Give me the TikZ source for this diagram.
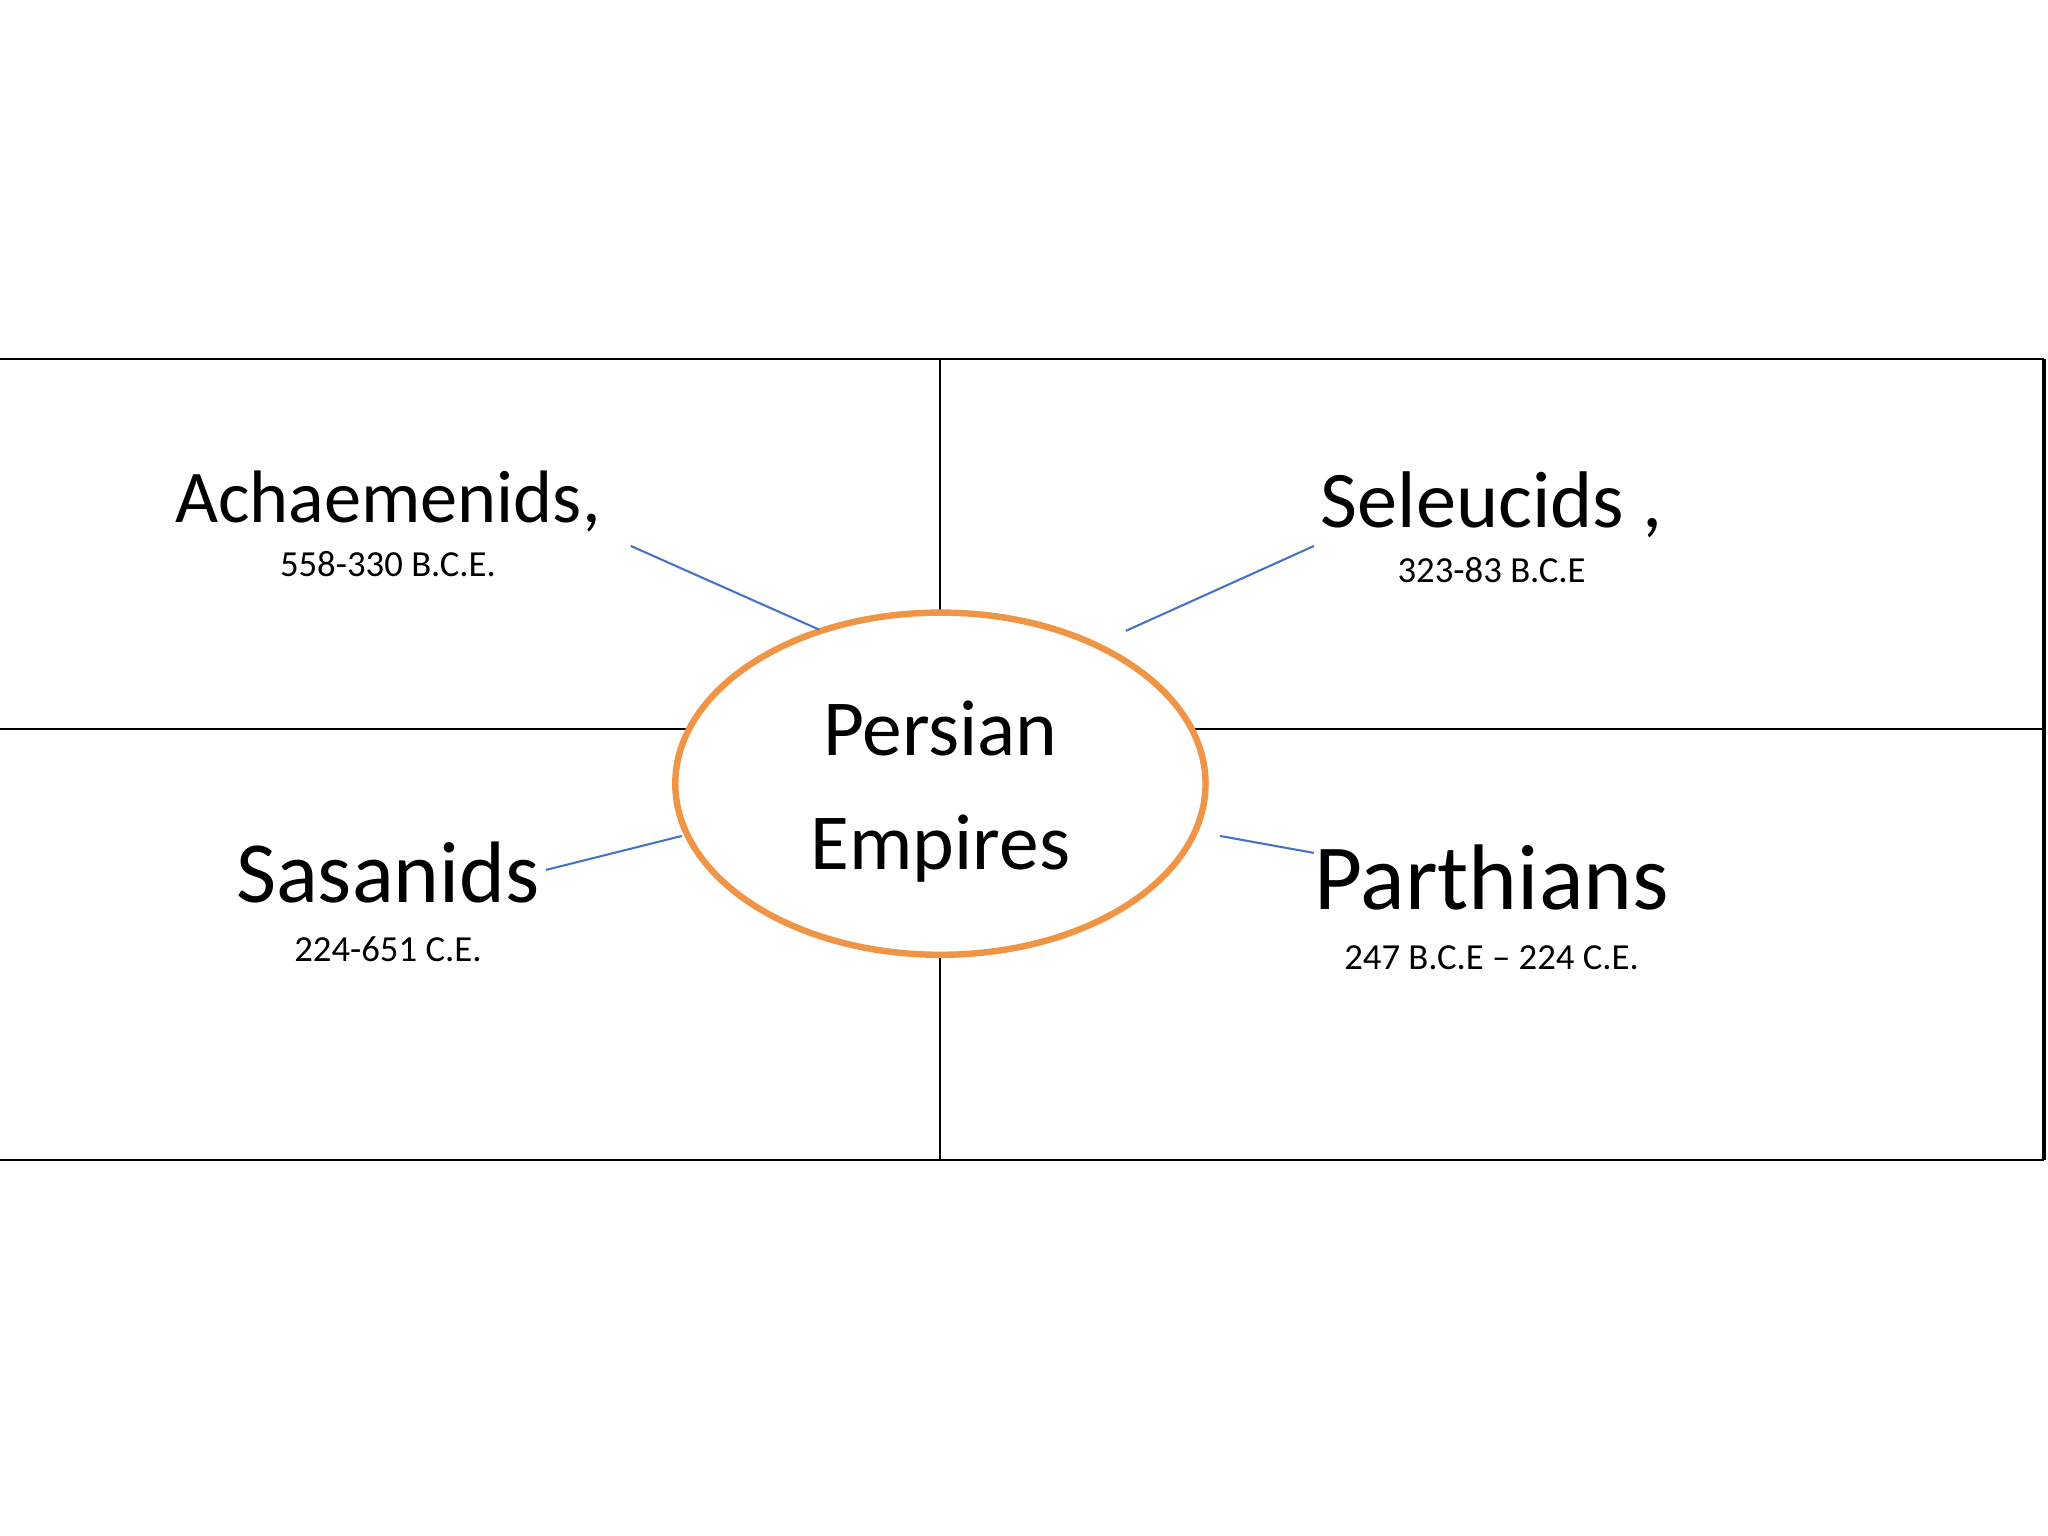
\documentclass[tikz,border=0pt]{standalone}
\usepackage{fontspec}
\setmainfont{Carlito}
\usetikzlibrary{shapes.geometric}
\definecolor{orng}{RGB}{240,148,70}
\definecolor{conn}{RGB}{68,114,196}
\tikzset{
  grid/.style={line width=0.45pt, black},
  hub/.style={ellipse, draw=orng, line width=1.4pt, fill=white, minimum width=40.6mm, minimum height=26.2mm, inner sep=0pt},
  hubtext/.style={align=center, inner sep=0pt, font=\fontsize{17.3}{24.7}\selectfont},
  title/.style={anchor=base, inner sep=0pt},
  datelbl/.style={anchor=base, inner sep=0pt, font=\fontsize{8}{10}\selectfont},
  link/.style={conn, line width=0.45pt}
}
\begin{document}
\begin{tikzpicture}[x=0.1mm,y=-0.1mm]
\useasboundingbox (0,0) rectangle (1568,1176);
% table
\draw[grid] (-5,275) -- (1565,275);
\draw[grid] (-5,558) -- (1565,558);
\draw[grid] (-5,888) -- (1565,888);
\draw[grid] (720,275) -- (720,888);
\draw[line width=0.7pt] (1565,275) -- (1565,888);
% hub
\node[hub] (hub) at (720,600) {};
\node[hubtext] (hubtxt) at (720,606) {Persian\\Empires};
% labels
\node[title, font=\fontsize{16.2}{19}\selectfont] (ach) at (297,400) {Achaemenids,};
\node[datelbl] (achd) at (297,441) {558-330 B.C.E.};
\node[title, font=\fontsize{17.5}{21}\selectfont] (sel) at (1142,404) {Seleucids ,};
\node[datelbl] (seld) at (1142,446) {323-83 B.C.E};
\node[title, font=\fontsize{19}{23}\selectfont] (sas) at (297,691) {Sasanids};
\node[datelbl] (sasd) at (297,736) {224-651 C.E.};
\node[title, font=\fontsize{20.3}{24}\selectfont] (par) at (1142,696) {Parthians};
\node[datelbl] (pard) at (1142,742) {247 B.C.E – 224 C.E.};
% connector ends
\coordinate (a1) at (483,418); \coordinate (a2) at (627,482);
\coordinate (s1) at (1006,418); \coordinate (s2) at (862,483);
\coordinate (n1) at (418,666); \coordinate (n2) at (522,640);
\coordinate (p1) at (934,640); \coordinate (p2) at (1006,653);
\draw[link] (a1) -- (a2);
\draw[link] (s1) -- (s2);
\draw[link] (n1) -- (n2);
\draw[link] (p1) -- (p2);
\end{tikzpicture}
\end{document}
